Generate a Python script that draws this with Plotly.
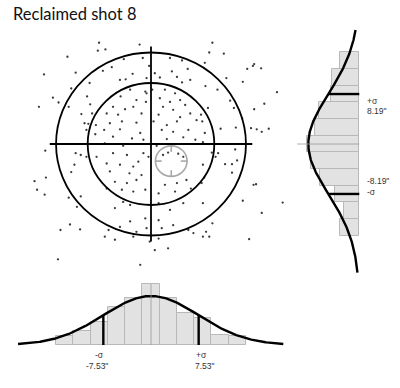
import numpy as np
import plotly.graph_objects as go

# ---------------- data (inches / counts) ----------------
title_text = "Reclaimed shot 8"

shot_x = [-13.2,-16.9,-11.9,-9.7,-12.6,-15.5,-14.6,-13.0,-17.7,-10.1,-9.6,-11.0,-9.3,-10.5,-9.9,-10.2,-8.7,-8.8,-8.4,-8.2,
          -1.8,-7.2,-4.3,-1.3,3.0,4.9,-6.2,-2.9,-0.3,0.6,3.3,5.8,-7.6,-4.9,-4.0,-0.7,1.4,4.1,4.9,6.2,-3.3,-0.9,-0.7,0.2,2.2,3.8,
          -4.8,-2.3,-0.8,1.4,3.0,4.6,-6.0,-4.1,-2.8,1.9,3.5,5.4,-7.0,-5.2,-1.5,1.2,4.6,6.2,-6.5,-4.6,-2.3,0.4,2.5,4.1,7.2,
          -7.4,-4.9,-1.7,1.7,3.5,5.9,-6.0,-3.0,-1.2,2.5,5.1,7.0,-7.3,-4.4,0.9,
          9.7,9.2,11.5,8.5,16.3,16.1,15.2,17.4,11.9,14.5,8.6,10.5,19.9,12.5,17.9,13.1,9.0,16.3,7.9,14.4,8.1,13.4,11.0,15.8,16.7,
          17.5,18.6,8.5,8.2,13.3,
          -16.7,-11.9,-11.1,-10.2,-12.1,-12.6,-16.6,-18.4,-18.0,-16.8,-13.0,-11.1,-11.7,-12.8,-14.3,-11.2,-14.7,-8.6,
          -6.0,-3.8,-1.2,-0.4,1.9,2.7,4.3,5.1,-7.0,-4.9,-2.8,-2.0,-6.5,-3.4,-1.5,-5.7,-3.8,-2.3,2.2,4.1,5.6,-7.0,-4.6,-2.8,
          -0.9,1.2,3.8,6.3,-4.4,-3.3,1.2,3.0,5.1,-5.7,-0.9,-3.3,1.2,-4.9,-0.7,1.7,3.5,5.9,-6.7,-2.3,-2.8,-5.7,1.2,-0.2,2.7,
          -1.7,0.6,-7.3,6.7,
          9.6,10.6,10.2,8.2,11.7,12.8,13.6,12.8,8.4,8.0,16.2,16.6,14.5,20.8,17.5,8.2,9.7,8.7,8.2,9.2,15.5]
shot_y = [14.3,11.4,11.7,10.0,9.1,7.6,6.8,6.1,6.1,7.8,6.5,4.9,5.0,3.4,3.3,2.3,3.1,1.6,15.3,16.6,
          16.3,15.5,13.9,14.1,14.1,13.7,12.6,11.5,12.8,11.6,11.9,12.3,12.0,10.5,10.6,10.8,10.9,11.0,10.1,10.5,8.9,8.6,8.3,8.9,8.9,8.3,
          7.8,7.2,6.9,7.5,6.9,7.2,6.1,5.7,6.1,6.1,5.6,6.4,5.0,4.8,5.0,4.8,4.4,5.0,3.4,3.7,3.5,3.7,3.1,3.7,3.9,
          2.3,2.4,1.8,2.3,2.0,2.3,1.2,0.9,0.7,0.8,1.1,0.7,0.1,-0.3,-0.3,
          16.6,15.0,14.8,13.3,13.1,12.8,12.3,12.4,10.8,10.2,9.5,8.9,8.5,7.1,6.6,5.9,5.9,5.7,4.8,4.2,3.7,2.7,2.5,2.6,2.4,
          2.0,2.5,1.8,0.3,-0.9,
          -1.1,-1.5,-1.8,-2.1,-3.4,-4.6,-5.5,-6.1,-7.5,-8.3,-8.8,-8.6,-10.3,-13.2,-14.1,-14.0,-18.9,-2.1,
          -1.5,-1.8,-1.5,-2.1,-1.8,-1.4,-1.6,-2.1,-3.2,-3.4,-3.7,-2.9,-4.5,-4.8,-5.1,-6.2,-6.4,-5.9,-6.7,-6.4,-5.9,-7.3,-7.5,-7.8,
          -7.5,-8.1,-7.8,-7.3,-9.5,-10.0,-9.7,-10.8,-9.7,-10.5,-12.2,-12.7,-12.5,-13.6,-13.8,-13.8,-13.3,-14.1,-14.1,-14.4,-15.2,-15.7,-15.5,-16.0,-17.1,
          -19.8,-17.4,-15.2,-14.6,
          -1.4,-1.5,-2.1,-3.4,-3.3,-3.3,-2.7,-4.7,-5.5,-6.4,-6.7,-6.6,-9.3,-9.6,-11.3,-9.7,-13.0,-14.4,-15.2,-15.2,-15.6]

ring_radii = [10.0, 15.0]          # inches
cross_half = 16.0                  # crosshair half-length, inches
reticle_center = [3.2, -2.8]
reticle_r = [2.5, 1.5]

bin_width = 2.73
bin_centers = [-13.65, -10.92, -8.19, -5.46, -2.73, 0.0, 2.73, 5.46, 8.19, 10.92, 13.65]
horiz_counts = [9, 14, 23, 38, 47, 61, 47, 32, 27, 10, 9]        # bottom histogram (x)
vert_counts = [19, 15, 24, 39, 48.5, 52, 44.5, 40, 28.5, 27, 19]  # right histogram (y), from low y to high y
sigma_x = 7.53
sigma_y = 8.19
peak_x = 49
peak_y = 51
curve_x_span = [-21.0, 20.9]
curve_y_span = [-21.1, 18.7]

# ---------------- figure ----------------
fig = go.Figure()
dot_col = "#3a3a3a"
bar_fill = "#e2e2e2"
bar_line = "#b8b8b8"

fig.add_trace(go.Scatter(x=shot_x, y=shot_y, mode="markers", xaxis="x", yaxis="y",
                         marker=dict(size=2.3, color=dot_col), hoverinfo="skip"))

# right histogram (horizontal bars)
fig.add_trace(go.Bar(x=vert_counts, y=bin_centers, orientation="h", width=bin_width,
                     xaxis="x2", yaxis="y", marker=dict(color=bar_fill, line=dict(color=bar_line, width=1)),
                     hoverinfo="skip"))
yy = np.linspace(curve_y_span[0], curve_y_span[1], 300)
fig.add_trace(go.Scatter(x=peak_y * np.exp(-yy**2 / (2 * sigma_y**2)), y=yy, mode="lines",
                         xaxis="x2", yaxis="y", line=dict(color="black", width=2.4), hoverinfo="skip"))
for s in (sigma_y, -sigma_y):
    fig.add_trace(go.Scatter(x=[0, peak_y * np.exp(-0.5)], y=[s, s], mode="lines", xaxis="x2", yaxis="y",
                             line=dict(color="black", width=2.4), hoverinfo="skip"))

# bottom histogram
fig.add_trace(go.Bar(x=bin_centers, y=horiz_counts, width=bin_width, xaxis="x", yaxis="y3",
                     marker=dict(color=bar_fill, line=dict(color=bar_line, width=1)), hoverinfo="skip"))
xx = np.linspace(curve_x_span[0], curve_x_span[1], 300)
fig.add_trace(go.Scatter(x=xx, y=peak_x * np.exp(-xx**2 / (2 * sigma_x**2)), mode="lines",
                         xaxis="x", yaxis="y3", line=dict(color="black", width=2.4), hoverinfo="skip"))
for s in (sigma_x, -sigma_x):
    fig.add_trace(go.Scatter(x=[s, s], y=[0, peak_x * np.exp(-0.5)], mode="lines", xaxis="x", yaxis="y3",
                             line=dict(color="black", width=2.4), hoverinfo="skip"))

shapes = []
for r in ring_radii:
    shapes.append(dict(type="circle", xref="x", yref="y", x0=-r, x1=r, y0=-r, y1=r,
                       line=dict(color="black", width=1.8)))
shapes.append(dict(type="line", xref="x", yref="y", x0=-cross_half, x1=cross_half, y0=0, y1=0,
                   line=dict(color="black", width=1.8)))
shapes.append(dict(type="line", xref="x", yref="y", x0=0, x1=0, y0=-cross_half, y1=cross_half,
                   line=dict(color="black", width=1.8)))
cx, cy = reticle_center
R, r_in = reticle_r
shapes.append(dict(type="circle", xref="x", yref="y", x0=cx - R, x1=cx + R, y0=cy - R, y1=cy + R,
                   line=dict(color="#a8a8a8", width=1.6)))
for dx, dy in [(1, 0), (-1, 0), (0, 1), (0, -1)]:
    shapes.append(dict(type="line", xref="x", yref="y", x0=cx + dx * R, x1=cx + dx * r_in,
                       y0=cy + dy * R, y1=cy + dy * r_in, line=dict(color="#a8a8a8", width=1.6)))
# histogram centre lines
shapes.append(dict(type="line", xref="x2", yref="y", x0=0, x1=62, y0=0, y1=0,
                   line=dict(color="#999999", width=0.8)))
shapes.append(dict(type="line", xref="x", yref="y3", x0=0, x1=0, y0=0, y1=max(horiz_counts),
                   line=dict(color="#999999", width=0.8)))

lab_font = dict(family="Liberation Sans, Arial", size=8.5, color="#333333")
ann = [
    dict(text=title_text, xref="paper", yref="paper", x=11 / 400, y=1 - 14 / 388, xanchor="left",
         yanchor="middle", showarrow=False, font=dict(family="Lato", size=16.5, color="#111111")),
    dict(text="-σ", xref="x", yref="y3", x=-sigma_x, y=-9.5, xshift=-4, showarrow=False, font=lab_font),
    dict(text="-%.2f\"" % sigma_x, xref="x", yref="y3", x=-sigma_x, y=-20.5, xshift=-6, showarrow=False, font=lab_font),
    dict(text="+σ", xref="x", yref="y3", x=sigma_x, y=-9.5, xshift=3, showarrow=False, font=lab_font),
    dict(text="%.2f\"" % sigma_x, xref="x", yref="y3", x=sigma_x, y=-20.5, xshift=6, showarrow=False, font=lab_font),
    dict(text="+σ", xref="x2", yref="y", x=-6, y=sigma_y, yshift=-6.5, xanchor="left", showarrow=False, font=lab_font),
    dict(text="%.2f\"" % sigma_y, xref="x2", yref="y", x=-6, y=sigma_y, yshift=-17, xanchor="left", showarrow=False, font=lab_font),
    dict(text="-%.2f\"" % sigma_y, xref="x2", yref="y", x=-6, y=-sigma_y, yshift=13, xanchor="left", showarrow=False, font=lab_font),
    dict(text="-σ", xref="x2", yref="y", x=-6, y=-sigma_y, yshift=1.5, xanchor="left", showarrow=False, font=lab_font),
]

hidden = dict(visible=False, showgrid=False, zeroline=False, fixedrange=True)
fig.update_layout(
    width=400, height=388, autosize=False,
    margin=dict(l=0, r=0, t=0, b=0, pad=0),
    paper_bgcolor="white", plot_bgcolor="rgba(0,0,0,0)",
    showlegend=False, barmode="overlay", bargap=0,
    xaxis=dict(domain=[0, 1], range=[-151 / 6.33, 249 / 6.33], **hidden),
    yaxis=dict(domain=[0, 1], range=[-244 / 6.1, 144 / 6.1], **hidden),
    xaxis2=dict(domain=[0, 1], range=[359.3, -40.7], overlaying="x", anchor="y", **hidden),
    yaxis3=dict(domain=[0, 1], range=[-43, 345], overlaying="y", anchor="x", **hidden),
    shapes=shapes, annotations=ann,
)

fig.write_html("out.html", config={"displayModeBar": False})
